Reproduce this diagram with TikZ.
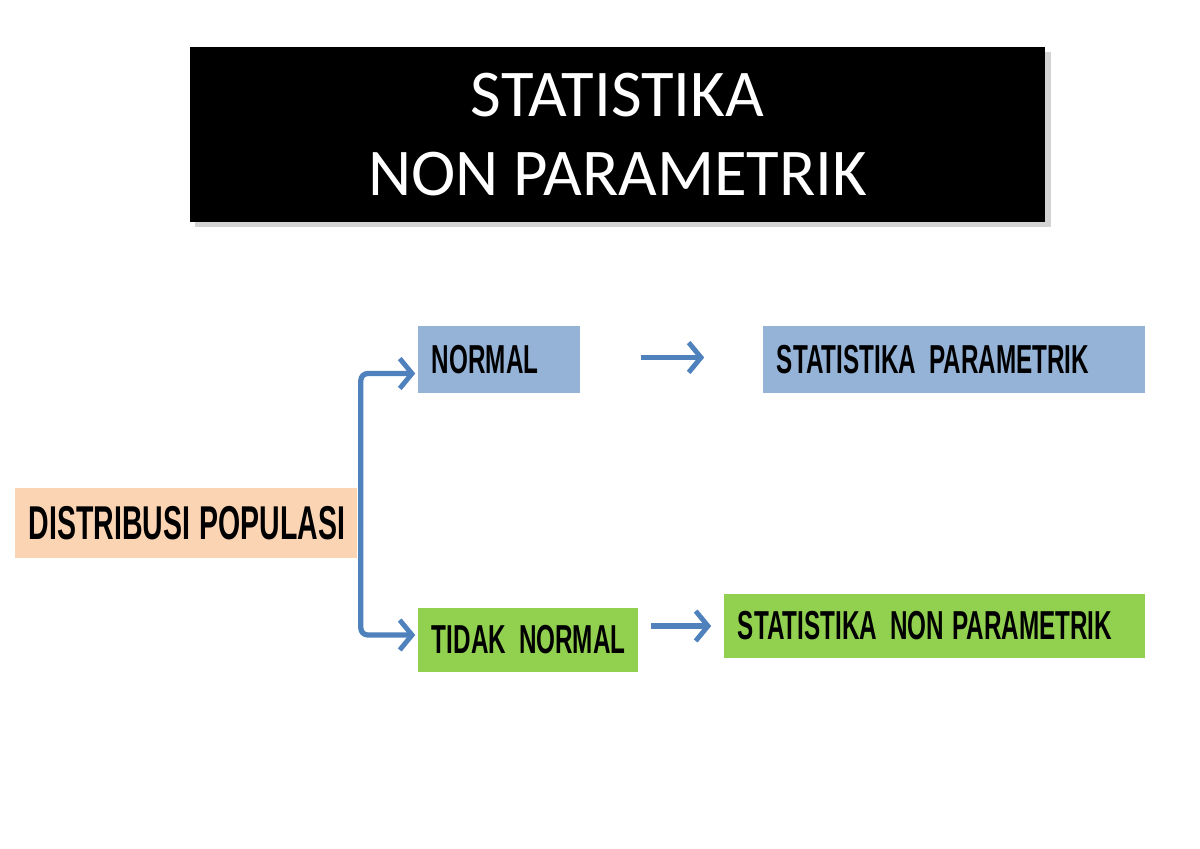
\documentclass[tikz,border=0pt]{standalone}
\usepackage{fontspec}
\setmainfont{Liberation Sans}
\newfontfamily\titlefont{Carlito}
\usetikzlibrary{arrows.meta,calc,shadows}
\definecolor{boxblue}{HTML}{95B3D7}
\definecolor{boxgreen}{HTML}{92D050}
\definecolor{boxpeach}{HTML}{FBD4B4}
\definecolor{arrowblue}{HTML}{4F81BD}
\newcommand{\narrow}[2][0.6]{\scalebox{#1}[1]{\bfseries #2}}
\begin{document}
\begin{tikzpicture}[x=0.01cm,y=-0.01cm]

    \tikzset{
      box/.style={
        inner xsep=0.14cm,
        inner ysep=0pt,
        align=left,
        font=\fontsize{11.5}{13}\selectfont,
      },
      conn/.style={
        draw=arrowblue,
        line width=1.5pt,
        -{Straight Barb[length=3.5pt,width=8.5pt,line width=1.4pt]},
      },
    }
    \useasboundingbox (0,0) rectangle (1200,848);
    \node[fill=black,text=white,minimum width=8.55cm,minimum height=1.75cm,
      align=center,font=\titlefont\fontsize{19}{22.5}\selectfont,
      drop shadow={shadow xshift=1.5pt,shadow yshift=-1.5pt,opacity=0.35}]
      (title) at (617.5,134.5) {STATISTIKA\\NON PARAMETRIK};
	\node[box,fill=boxpeach,text width=3.14cm,minimum height=0.70cm,font=\fontsize{13.5}{15}\selectfont] (dist) at (186,523) {\narrow[0.6]{DISTRIBUSI POPULASI}};
	\node[box,fill=boxblue,text width=1.34cm,minimum height=0.67cm] (normal) at (499,359.5) {\narrow{NORMAL}};
	\node[box,fill=boxblue,text width=3.54cm,minimum height=0.67cm] (param) at (954,359.5) {\narrow{STATISTIKA\hspace{0.2em} PARAMETRIK}};
	\node[box,fill=boxgreen,text width=1.92cm,minimum height=0.64cm] (tidak) at (528,640) {\narrow{TIDAK\hspace{0.2em} NORMAL}};
	\node[box,fill=boxgreen,text width=3.93cm,minimum height=0.64cm] (nonparam) at (934.5,626) {\narrow{STATISTIKA\hspace{0.2em} NON PARAMETRIK}};
	\draw[conn,rounded corners=2pt] ($(dist.east)+(3,0)$) |- ($(normal.west)+(-2,14)$);
	\draw[conn,rounded corners=2pt] ($(dist.east)+(3,0)$) |- ($(tidak.west)+(-2,-5)$);
	\draw[conn] ($(normal.east)+(60,-2)$) -- ($(param.west)+(-58,-2)$);
	\draw[conn] ($(tidak.east)+(12,-14)$) -- ($(nonparam.west)+(-12,0)$);

\end{tikzpicture}
\end{document}
